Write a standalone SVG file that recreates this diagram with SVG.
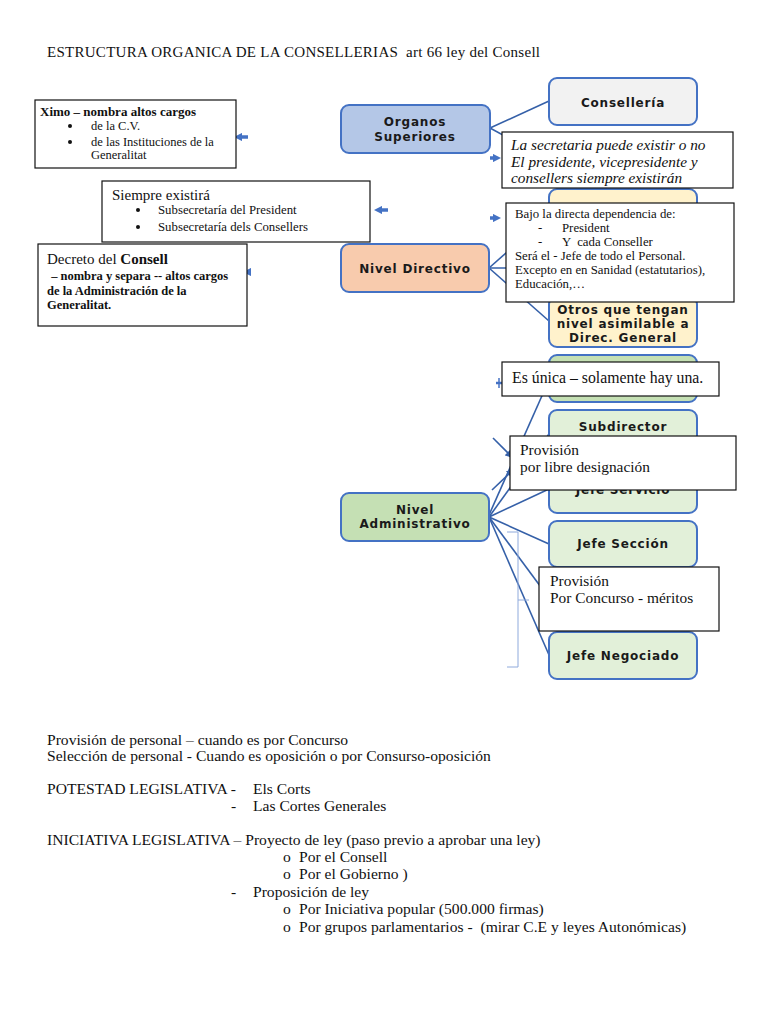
<svg xmlns="http://www.w3.org/2000/svg" width="768" height="1024" viewBox="0 0 768 1024">
<defs>
<style>
.serif{font-family:"Liberation Serif","Times New Roman",serif;fill:#111}
.node{stroke:#4472c4;stroke-width:2}
.nt{font-family:"DejaVu Sans",Verdana,sans-serif;font-weight:bold;font-size:12px;fill:#1a1a1a;text-anchor:middle;letter-spacing:0.8px}
.note{fill:#fff;stroke:#111;stroke-width:1.2}
.conn{stroke:#3560a8;stroke-width:1.6;fill:none}
.blk{stroke:#4472c4;stroke-width:3.5;fill:none}
</style>
<marker id="bh" viewBox="0 0 10 10" refX="5" refY="5" markerWidth="2.4" markerHeight="2.4" orient="auto"><path d="M0,0 L10,5 L0,10 z" fill="#4472c4"/></marker>
<marker id="ah" viewBox="0 0 10 10" refX="8" refY="5" markerWidth="5" markerHeight="5" orient="auto"><path d="M0,0 L10,5 L0,10 z" fill="#3560a8"/></marker>
</defs>
<rect width="768" height="1024" fill="#fff"/>

<text class="serif" x="47" y="57" font-size="15" textLength="493" xml:space="preserve">ESTRUCTURA ORGANICA DE LA CONSELLERIAS  art 66 ley del Consell</text>

<g id="connectors">
<line class="conn" x1="490" y1="128" x2="549" y2="101"/>
<line class="conn" x1="490" y1="128" x2="549" y2="160"/>
<line class="conn" x1="489" y1="268" x2="549" y2="215"/>
<line class="conn" x1="489" y1="268" x2="549" y2="268"/>
<line class="conn" x1="489" y1="268" x2="549" y2="321"/>
<line class="conn" x1="489" y1="515" x2="549" y2="380"/>
<line class="conn" x1="489" y1="517" x2="549" y2="434"/>
<line class="conn" x1="489" y1="517" x2="549" y2="489"/>
<line class="conn" x1="489" y1="517" x2="549" y2="544"/>
<line class="conn" x1="489" y1="517" x2="549" y2="598"/>
<line class="conn" x1="489" y1="517" x2="549" y2="655"/>
<line class="conn" x1="493" y1="438" x2="512" y2="457" marker-end="url(#ah)"/>
<line class="conn" x1="492" y1="490" x2="513" y2="470" marker-end="url(#ah)"/>
<path d="M507,532 H518 V667 H507 M518,600 H529" stroke="#8faadc" stroke-width="1" fill="none"/>
<line class="blk" x1="248" y1="137" x2="238" y2="137" marker-end="url(#bh)"/>
<line class="blk" x1="388" y1="210" x2="378" y2="210" marker-end="url(#bh)"/>
<line class="blk" x1="250" y1="272" x2="247" y2="272" marker-end="url(#bh)"/>
<line class="blk" x1="490" y1="158" x2="497" y2="158" marker-end="url(#bh)"/>
<line class="blk" x1="490" y1="218" x2="497" y2="218" marker-end="url(#bh)"/>
<line x1="496" y1="383" x2="506" y2="383" stroke="#4472c4" stroke-width="2.5"/>
<line x1="499" y1="378" x2="499" y2="388" stroke="#4472c4" stroke-width="1.5"/>
</g>

<g id="organos">
<rect class="node" x="341" y="105" width="149" height="48" rx="8" fill="#b4c7e7"/>
<text class="nt" x="415" y="126" letter-spacing="1.6">Organos</text>
<text class="nt" x="415" y="141" letter-spacing="1.2">Superiores</text>
</g>
<g id="conselleria">
<rect class="node" x="549" y="78" width="148" height="47" rx="8" fill="#f2f2f2"/>
<text class="nt" x="623" y="107">Consellería</text>
</g>
<g id="yellow1">
<rect class="node" x="549" y="189" width="148" height="52" rx="8" fill="#fff2cc"/>
</g>
<g id="otros">
<rect class="node" x="549" y="296" width="148" height="51" rx="8" fill="#fff2cc"/>
<text class="nt" x="623" y="314" font-size="13">Otros que tengan</text>
<text class="nt" x="623" y="328" font-size="13">nivel asimilable a</text>
<text class="nt" x="623" y="342" font-size="13">Direc. General</text>
</g>
<g id="nivel-directivo">
<rect class="node" x="341" y="244" width="148" height="48" rx="8" fill="#f8cbad"/>
<text class="nt" x="415" y="273">Nivel Directivo</text>
</g>
<g id="nivel-administrativo">
<rect class="node" x="341" y="493" width="148" height="48" rx="8" fill="#c5e0b4"/>
<text class="nt" x="415" y="514" letter-spacing="1.2">Nivel</text>
<text class="nt" x="415" y="528">Administrativo</text>
</g>
<g id="green1">
<rect class="node" x="549" y="355" width="148" height="47" rx="8" fill="#c5e0b4"/>
</g>
<g id="subdirector">
<rect class="node" x="549" y="410" width="148" height="48" rx="8" fill="#e2f0d9"/>
<text class="nt" x="623" y="431">Subdirector</text>
</g>
<g id="jefe-servicio">
<rect class="node" x="549" y="464" width="148" height="49" rx="8" fill="#e2f0d9"/>
<text class="nt" x="623" y="494">Jefe Servicio</text>
</g>
<g id="jefe-seccion">
<rect class="node" x="549" y="521" width="148" height="46" rx="8" fill="#e2f0d9"/>
<text class="nt" x="623" y="548">Jefe Sección</text>
</g>
<g id="jefe-negociado">
<rect class="node" x="549" y="632" width="148" height="47" rx="8" fill="#e2f0d9"/>
<text class="nt" x="623" y="660">Jefe Negociado</text>
</g>

<g id="note-ximo">
<rect class="note" x="35" y="100" width="201" height="68"/>
<text class="serif" x="40" y="116" font-size="13" font-weight="bold">Ximo – nombra altos cargos</text>
<circle cx="70" cy="126" r="2" fill="#111"/>
<circle cx="70" cy="142" r="2" fill="#111"/>
<text class="serif" x="91" y="130" font-size="12.5">de la C.V.</text>
<text class="serif" x="91" y="146" font-size="12.5">de las Instituciones de la</text>
<text class="serif" x="91" y="159" font-size="12.5">Generalitat</text>
</g>
<g id="note-siempre">
<rect class="note" x="102" y="181" width="268" height="61"/>
<text class="serif" x="112" y="200" font-size="15">Siempre existirá</text>
<circle cx="138" cy="210" r="2" fill="#111"/>
<circle cx="138" cy="227" r="2" fill="#111"/>
<text class="serif" x="158" y="214" font-size="12.8">Subsecretaría del President</text>
<text class="serif" x="158" y="231" font-size="12.8">Subsecretaría dels Consellers</text>
</g>
<g id="note-decreto">
<rect class="note" x="38" y="244" width="209" height="82"/>
<text class="serif" x="47" y="264" font-size="15" xml:space="preserve">Decreto del <tspan font-weight="bold">Consell</tspan></text>
<text class="serif" x="48" y="280" font-size="12.5" font-weight="bold" xml:space="preserve"> – nombra y separa -- altos cargos</text>
<text class="serif" x="47" y="295" font-size="12.5" font-weight="bold">de la Administración de la</text>
<text class="serif" x="47" y="309" font-size="12.5" font-weight="bold">Generalitat.</text>
</g>
<g id="note-secretaria">
<rect class="note" x="502" y="132" width="231" height="56"/>
<text class="serif" x="511" y="150" font-size="15.3" font-style="italic">La secretaria puede existir o no</text>
<text class="serif" x="511" y="167" font-size="15.3" font-style="italic">El presidente, vicepresidente y</text>
<text class="serif" x="511" y="183" font-size="15.3" font-style="italic">consellers siempre existirán</text>
</g>
<g id="note-bajo">
<rect class="note" x="506" y="203" width="228" height="99"/>
<text class="serif" x="515" y="218" font-size="12.8">Bajo la directa dependencia de:</text>
<text class="serif" x="538" y="232" font-size="12.8">-</text>
<text class="serif" x="562" y="232" font-size="12.8">President</text>
<text class="serif" x="538" y="246" font-size="12.8">-</text>
<text class="serif" x="562" y="246" font-size="12.8" xml:space="preserve">Y  cada Conseller</text>
<text class="serif" x="515" y="260" font-size="12.8">Será el - Jefe de todo el Personal.</text>
<text class="serif" x="515" y="274" font-size="12.8">Excepto en en Sanidad (estatutarios),</text>
<text class="serif" x="515" y="288" font-size="12.8">Educación,…</text>
</g>
<g id="note-unica">
<rect class="note" x="502" y="362" width="217" height="34"/>
<text class="serif" x="512" y="383" font-size="15.8">Es única – solamente hay una.</text>
</g>
<g id="note-libre">
<rect class="note" x="510" y="436" width="226" height="54"/>
<text class="serif" x="520" y="455" font-size="15.4">Provisión</text>
<text class="serif" x="520" y="472" font-size="15.4">por libre designación</text>
</g>
<g id="note-concurso">
<rect class="note" x="539" y="567" width="180" height="64"/>
<text class="serif" x="550" y="586" font-size="15.4">Provisión</text>
<text class="serif" x="550" y="603" font-size="15.4">Por Concurso - méritos</text>
</g>

<g id="bottom-text" class="serif" font-size="15.6">
<text x="47" y="745">Provisión de personal – cuando es por Concurso</text>
<text x="47" y="761">Selección de personal - Cuando es oposición o por Consurso-oposición</text>
<text x="47" y="794">POTESTAD LEGISLATIVA -</text>
<text x="253" y="794">Els Corts</text>
<text x="231" y="811">-</text>
<text x="253" y="811">Las Cortes Generales</text>
<text x="47" y="845">INICIATIVA LEGISLATIVA – Proyecto de ley (paso previo a aprobar una ley)</text>
<text x="283" y="862">o</text>
<text x="299" y="862">Por el Consell</text>
<text x="283" y="879">o</text>
<text x="299" y="879">Por el Gobierno )</text>
<text x="231" y="897">-</text>
<text x="253" y="897">Proposición de ley</text>
<text x="283" y="914">o</text>
<text x="299" y="914">Por Iniciativa popular (500.000 firmas)</text>
<text x="283" y="932">o</text>
<text x="299" y="932" xml:space="preserve">Por grupos parlamentarios -  (mirar C.E y leyes Autonómicas)</text>
</g>
</svg>
